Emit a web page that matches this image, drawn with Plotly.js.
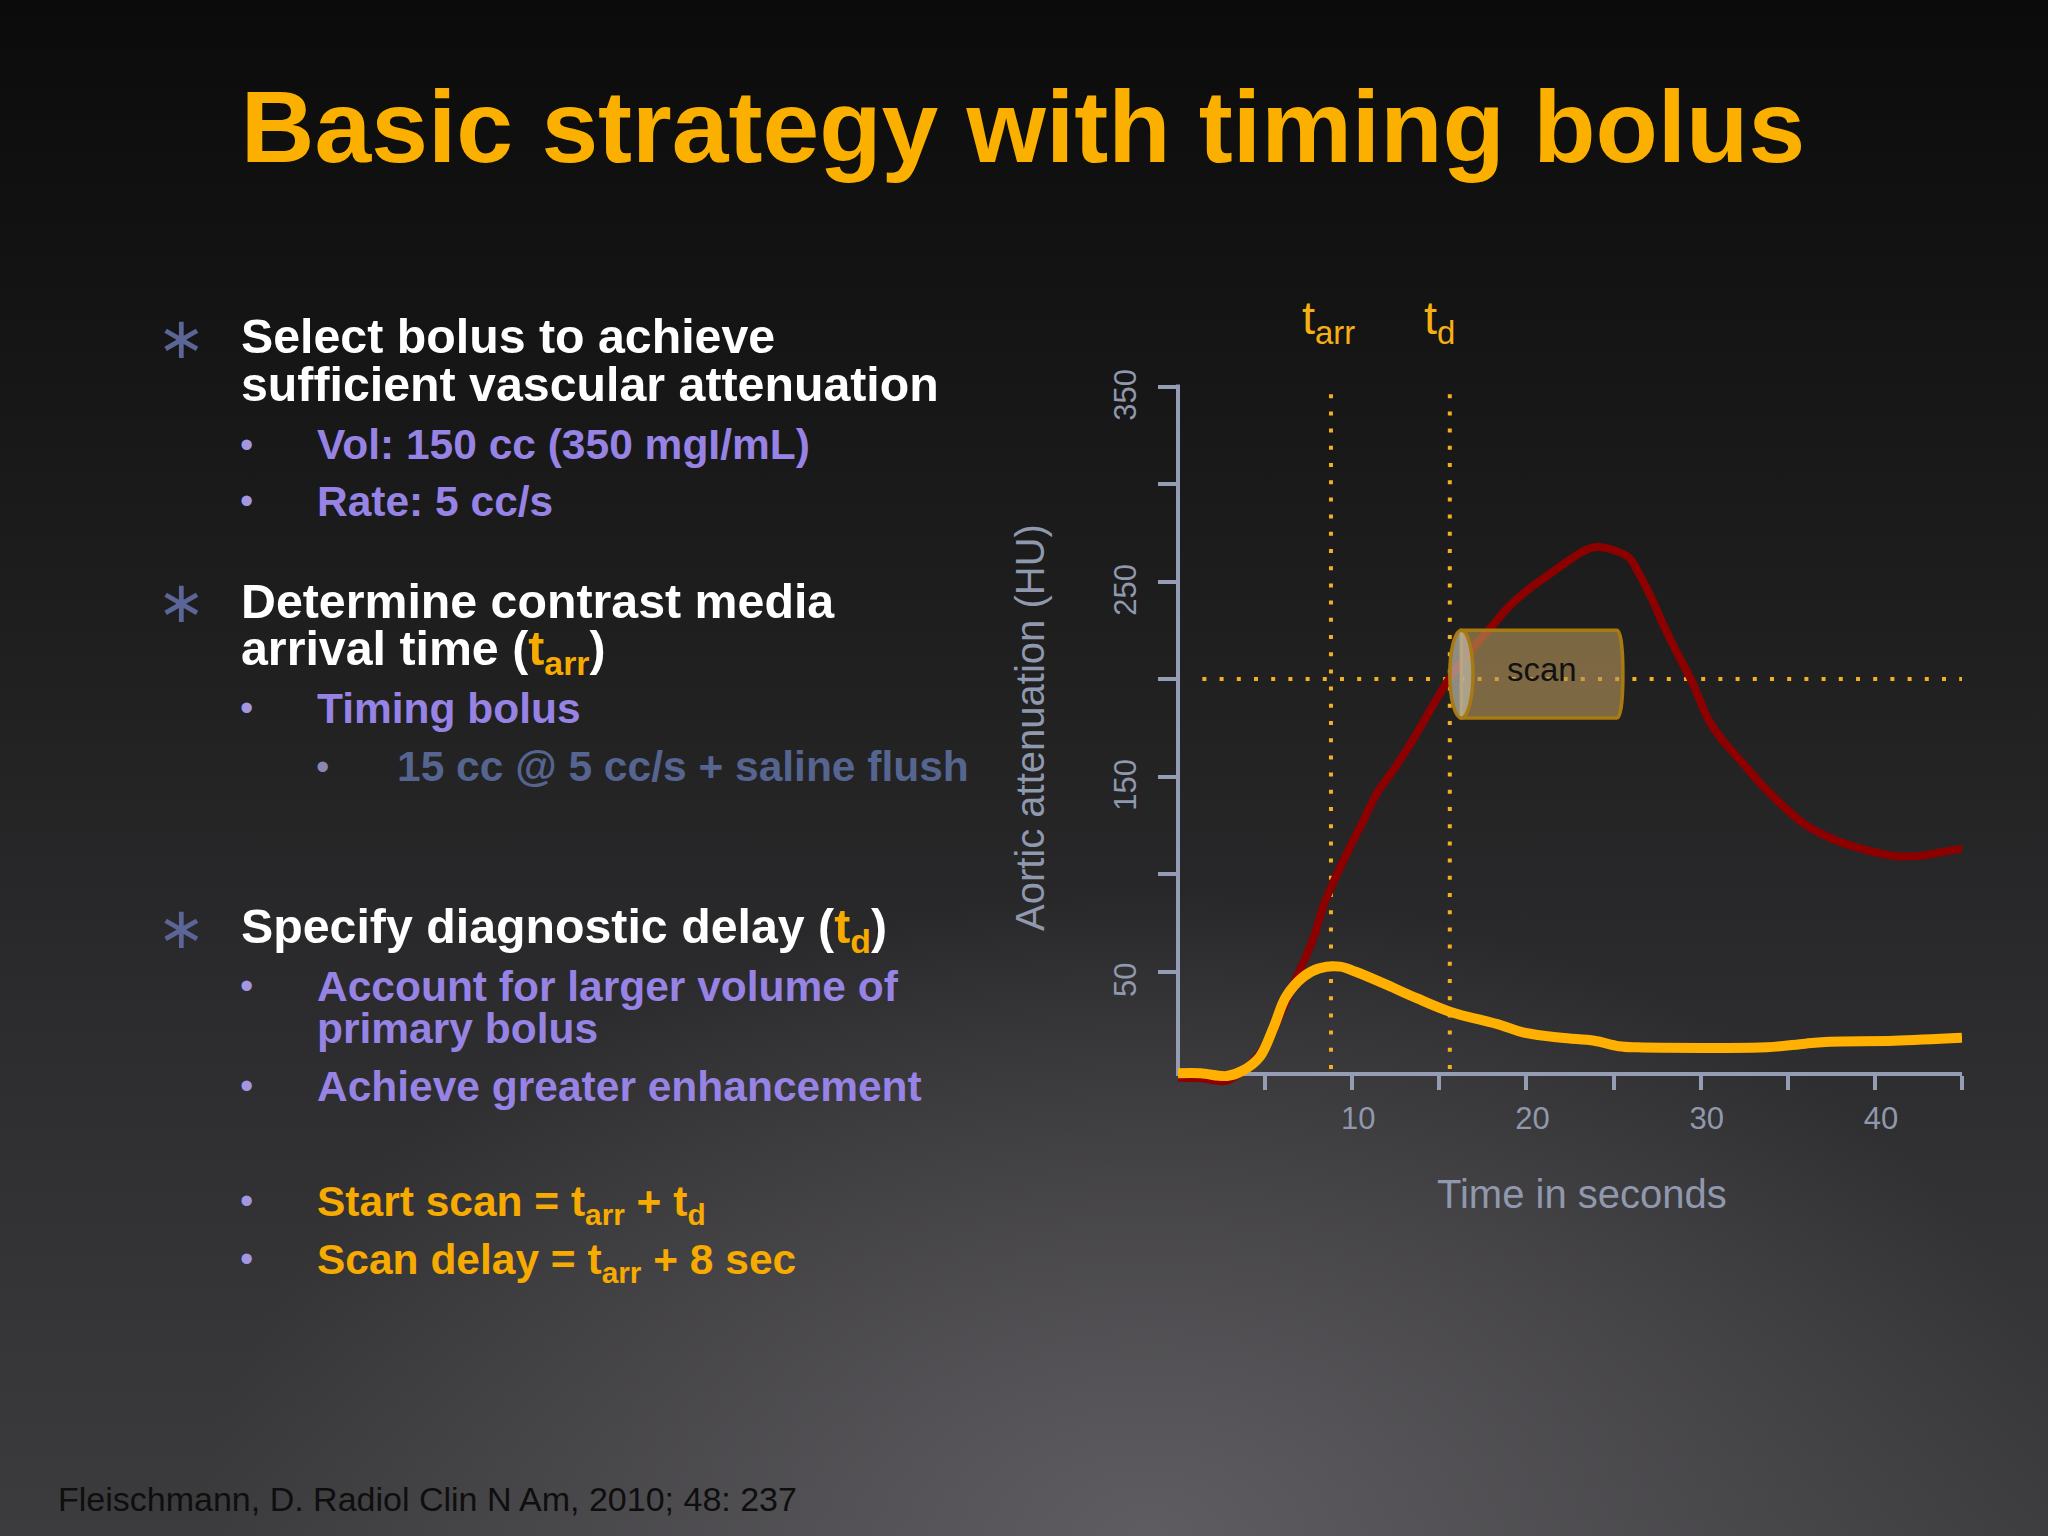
<!DOCTYPE html>
<html>
<head>
<meta charset="utf-8">
<script src="https://cdn.plot.ly/plotly-3.0.1.min.js"></script>
<style>
html, body { margin: 0; padding: 0; width: 2048px; height: 1536px; overflow: hidden; }
body {
  background:
    radial-gradient(ellipse 46% 42% at 56% 100%, rgba(96,94,98,0.95) 0%, rgba(96,94,98,0) 100%),
    linear-gradient(to bottom, #0b0b0b 0%, #141414 20%, #1f1f20 42%, #2d2c2e 68%, #3c3b3e 100%);
}
#chart { width: 2048px; height: 1536px; }
</style>
</head>
<body>
<div id="chart"></div>
<script>
// ---------------- data ----------------
// Timing bolus (yellow) enhancement curve
const timingBolusTime = [0, 1.3, 2.8, 3.7, 4.7, 5.5, 6.2, 7.2, 8.1, 9.3, 10.2, 11.8, 13.7, 15.6, 18.5, 19.8, 22.0, 23.9, 25.3, 26.4, 30.1, 33.8, 36.0, 37.4, 41.1, 45];
const timingBolusHU   = [-2.2, -2.2, -3.6, -0.9, 6.3, 21.7, 37.1, 47.3, 51.6, 52.5, 49.9, 43.9, 36.3, 29.4, 22.6, 18.8, 16.0, 14.5, 11.7, 11.1, 10.8, 11.1, 13.0, 14.0, 14.5, 16.0];
// Primary (diagnostic) bolus (dark red) enhancement curve
const primaryBolusTime = [0, 1.3, 2.8, 4.1, 5.1, 5.9, 6.4, 7.0, 7.8, 8.4, 9.75, 10.7, 11.4, 12.5, 13.6, 14.7, 15.65, 16.9, 18.0, 19.1, 20.2, 21.3, 22.4, 23.3, 24.0, 24.95, 25.9, 26.4, 27.2, 27.9, 28.6, 29.5, 30.45, 31.2, 32.3, 33.4, 34.5, 35.95, 37.4, 39.25, 41.1, 42.55, 44.0, 45];
const primaryBolusHU   = [-4.5, -4.8, -6.0, 2.0, 13.2, 28.5, 38.8, 50.8, 67.8, 85.0, 111.5, 128.4, 141.1, 155.1, 170.6, 187.5, 201.3, 215.6, 226.9, 238.1, 246.6, 253.6, 260.6, 265.7, 267.7, 266.3, 262.1, 255.0, 241.0, 226.9, 214.2, 198.7, 179.1, 169.2, 158.0, 146.7, 136.8, 125.6, 118.6, 112.9, 109.3, 109.3, 111.5, 113.0];

// axis ticks
const xLabelTicks = [10, 20, 30, 40];
const xTickLabels = ['10', '20', '30', '40'];
const xMinorTicks = [5, 15, 25, 35, 45];
const yLabelTicks = [50, 150, 250, 350];
const yTickLabels = ['50', '150', '250', '350'];
const yMinorTicks = [100, 200, 300];

// key times / thresholds
const tArr = 8.78;          // contrast arrival time (s)
const tD = 15.6;            // arrival + diagnostic delay (s)
const scanThreshold = 200;  // HU
const thresholdStart = 1.4; // s
const scanEnd = 25.2;       // s
const scanTopHU = 225;
const scanBottomHU = 180;
const scanCapWidth = 1.33;  // s (front ellipse width)

// ---------------- text ----------------
const titleText = 'Basic strategy with timing bolus';
const xTitle = 'Time in seconds';
const yTitle = 'Aortic attenuation (HU)';
const footerText = 'Fleischmann, D. Radiol Clin N Am, 2010; 48: 237';

const ORANGE = '#f7ab00';
const WHITE = '#ffffff';
const PURPLE = '#9683e4';
const SLATE = '#56658f';
const orangeT = sub => '<span style="color:' + ORANGE + '">t<sub>' + sub + '</sub></span>';

const bulletLines = [
  { text: 'Select bolus to achieve', level: 1, mark: true, color: WHITE },
  { text: 'sufficient vascular attenuation', level: 1, mark: false, color: WHITE },
  { text: 'Vol: 150 cc (350 mgI/mL)', level: 2, mark: true, color: PURPLE },
  { text: 'Rate: 5 cc/s', level: 2, mark: true, color: PURPLE },
  { text: 'Determine contrast media', level: 1, mark: true, color: WHITE },
  { text: 'arrival time (' + orangeT('arr') + ')', level: 1, mark: false, color: WHITE },
  { text: 'Timing bolus', level: 2, mark: true, color: PURPLE },
  { text: '15 cc @ 5 cc/s + saline flush', level: 3, mark: true, color: SLATE },
  { text: 'Specify diagnostic delay (' + orangeT('d') + ')', level: 1, mark: true, color: WHITE },
  { text: 'Account for larger volume of', level: 2, mark: true, color: PURPLE },
  { text: 'primary bolus', level: 2, mark: false, color: PURPLE },
  { text: 'Achieve greater enhancement', level: 2, mark: true, color: PURPLE },
  { text: 'Start scan = t<sub>arr</sub> + t<sub>d</sub>', level: 2, mark: true, color: ORANGE },
  { text: 'Scan delay = t<sub>arr</sub> + 8 sec', level: 2, mark: true, color: ORANGE }
];
// baselines of those lines (px from top)
const bulletBaselines = [352, 399.5, 458.7, 515.5, 616.4, 663.6, 722, 780.7, 942, 1000, 1042, 1100, 1215, 1273];

// ---------------- layout helpers ----------------
const W = 2048, H = 1536;
const FONT = 'Liberation Sans, Arial, Helvetica, sans-serif';
const ASC = 0.905;
const px = p => p / W;
const py = p => 1 - p / H;
const levelX = { 1: 240, 2: 316, 3: 396 };
const levelSize = { 1: 48.3, 2: 42.5, 3: 42.5 };
const markX = { 1: 181.7, 2: 246, 3: 322.5 };

const AXIS = '#949db3';
const AXIS_TEXT = '#8f98ad';
const DOT = '#f0b020';
const DOTDASH = '4px,13.2px';

// plot area pixels
const plotLeft = 1178, plotRight = 1962;
const yZeroPx = 1069, pxPerHU = 1.95;
const yMin = -9, yMax = 350;
const xAxisPx = 1074;
const yDomBottomPx = yZeroPx - yMin * pxPerHU;
const yDomTopPx = yZeroPx - yMax * pxPerHU;

const annotations = [];
bulletLines.forEach((ln, i) => {
  const size = levelSize[ln.level];
  const base = bulletBaselines[i];
  annotations.push({
    xref: 'paper', yref: 'paper', x: px(levelX[ln.level]), y: py(base - ASC * size),
    xanchor: 'left', yanchor: 'top', showarrow: false, borderpad: 0,
    text: ln.text, align: 'left',
    font: { family: FONT, size: size, color: ln.color, weight: 'bold' }
  });
  if (ln.mark) {
    if (ln.level === 1) {
      annotations.push({
        xref: 'paper', yref: 'paper', x: px(markX[1]), y: py(base - 14),
        xanchor: 'center', yanchor: 'middle', showarrow: false, borderpad: 0,
        text: '\u2217', font: { family: 'DejaVu Sans, sans-serif', size: 58, color: '#5b6596' }
      });
    } else {
      annotations.push({
        xref: 'paper', yref: 'paper', x: px(markX[ln.level]), y: py(base - 14),
        xanchor: 'center', yanchor: 'middle', showarrow: false, borderpad: 0,
        text: '\u2022', font: { family: FONT, size: 38, color: ln.level === 3 ? '#8a88b2' : '#a297e0' }
      });
    }
  }
});

// t labels above the vertical markers
annotations.push({
  xref: 'x', yref: 'paper', x: tArr, xshift: -2, y: py(290.5), xanchor: 'center', yanchor: 'top',
  showarrow: false, borderpad: 0, text: 't<sub>arr</sub>', font: { family: FONT, size: 47, color: '#f7b012' }
});
annotations.push({
  xref: 'x', yref: 'paper', x: tD, xshift: -10, y: py(290.5), xanchor: 'center', yanchor: 'top',
  showarrow: false, borderpad: 0, text: 't<sub>d</sub>', font: { family: FONT, size: 47, color: '#f7b012' }
});
// scan label
annotations.push({
  xref: 'x', yref: 'y', x: 20.9, y: 205, xanchor: 'center', yanchor: 'middle',
  showarrow: false, borderpad: 0, text: 'scan', font: { family: FONT, size: 33, color: '#111111' }
});
// axis titles
annotations.push({
  xref: 'paper', yref: 'paper', x: px(1582), y: py(1194), xanchor: 'center', yanchor: 'middle',
  showarrow: false, borderpad: 0, text: xTitle, font: { family: FONT, size: 40, color: AXIS_TEXT }
});
annotations.push({
  xref: 'paper', yref: 'paper', x: px(1030), y: py(728), xanchor: 'center', yanchor: 'middle',
  showarrow: false, borderpad: 0, textangle: -90, text: yTitle, font: { family: FONT, size: 40, color: AXIS_TEXT }
});
// footer
annotations.push({
  xref: 'paper', yref: 'paper', x: px(57), y: py(1510 - ASC * 34), xanchor: 'left', yanchor: 'top',
  showarrow: false, borderpad: 0, text: footerText, font: { family: FONT, size: 34, color: '#0e0e0e' }
});

// ---------------- shapes ----------------
const capCenter = tD + scanCapWidth / 2;
const bulge = 0.45;
const shapes = [
  // y axis line
  { type: 'line', xref: 'paper', yref: 'paper', x0: px(plotLeft), x1: px(plotLeft), y0: py(xAxisPx + 2), y1: py(yDomTopPx - 2),
    line: { color: AXIS, width: 4 }, layer: 'below' },
  // threshold
  { type: 'line', xref: 'x', yref: 'y', x0: thresholdStart, x1: 45, y0: scanThreshold, y1: scanThreshold,
    line: { color: DOT, width: 4, dash: DOTDASH }, layer: 'below' },
  // t_arr and t_d markers
  { type: 'line', xref: 'x', yref: 'y', x0: tArr, x1: tArr, y0: 0, y1: yMax,
    line: { color: DOT, width: 4, dash: DOTDASH }, layer: 'below' },
  { type: 'line', xref: 'x', yref: 'y', x0: tD, x1: tD, y0: 0, y1: yMax,
    line: { color: DOT, width: 4, dash: DOTDASH }, layer: 'below' },
  // scan cylinder body
  { type: 'path', xref: 'x', yref: 'y', layer: 'above',
    path: 'M ' + capCenter + ',' + scanTopHU + ' L ' + scanEnd + ',' + scanTopHU +
          ' C ' + (scanEnd + bulge) + ',' + scanTopHU + ' ' + (scanEnd + bulge) + ',' + scanBottomHU + ' ' + scanEnd + ',' + scanBottomHU +
          ' L ' + capCenter + ',' + scanBottomHU + ' Z',
    fillcolor: 'rgba(182,148,88,0.62)', line: { color: '#a87a12', width: 3.5 } },
  // scan cylinder front cap
  { type: 'circle', xref: 'x', yref: 'y', layer: 'above',
    x0: tD, x1: tD + scanCapWidth, y0: scanBottomHU, y1: scanTopHU,
    fillcolor: 'rgba(190,185,172,0.7)', line: { color: '#a87a12', width: 3.5 } }
];

// ---------------- traces ----------------
const traces = [
  { type: 'scatter', mode: 'lines', x: primaryBolusTime, y: primaryBolusHU,
    line: { color: '#8c0000', width: 8, shape: 'spline', smoothing: 1 }, hoverinfo: 'skip', name: 'Primary bolus' },
  { type: 'scatter', mode: 'lines', x: timingBolusTime, y: timingBolusHU,
    line: { color: '#ffb000', width: 10, shape: 'spline', smoothing: 1 }, hoverinfo: 'skip', name: 'Timing bolus' }
];

const minorStyle = { ticks: 'outside', tickcolor: AXIS, tickwidth: 4, showgrid: false, tickmode: 'array' };

const layout = {
  width: W, height: H,
  margin: { l: 0, r: 0, t: 0, b: 0, pad: 0 },
  paper_bgcolor: 'rgba(0,0,0,0)', plot_bgcolor: 'rgba(0,0,0,0)',
  showlegend: false,
  font: { family: FONT },
  title: {
    text: titleText,
    font: { family: FONT, size: 102, color: '#fbb000', weight: 'bold' },
    x: px(1023), xanchor: 'center', xref: 'paper',
    y: py(90.5), yanchor: 'top', yref: 'container'
  },
  xaxis: {
    domain: [px(plotLeft), px(plotRight)], range: [0, 45],
    anchor: 'free', position: py(xAxisPx),
    showline: true, linecolor: AXIS, linewidth: 4,
    ticks: 'outside', ticklen: 14, tickwidth: 4, tickcolor: AXIS,
    tickmode: 'array', tickvals: xLabelTicks, ticktext: xTickLabels,
    minor: Object.assign({ tickvals: xMinorTicks, ticklen: 14 }, minorStyle),
    tickfont: { family: FONT, size: 31, color: AXIS_TEXT },
    ticklabelstandoff: 2, ticklabelshift: 6,
    showgrid: false, zeroline: false, layer: 'below traces', fixedrange: true
  },
  yaxis: {
    domain: [py(yDomBottomPx), py(yDomTopPx)], range: [yMin, yMax],
    showline: false,
    ticks: 'outside', ticklen: 19, tickwidth: 4, tickcolor: AXIS,
    tickmode: 'array', tickvals: yLabelTicks, ticktext: yTickLabels, tickangle: -90,
    minor: Object.assign({ tickvals: yMinorTicks, ticklen: 19 }, minorStyle),
    tickfont: { family: FONT, size: 31, color: AXIS_TEXT },
    ticklabelstandoff: 10, ticklabelshift: 13,
    showgrid: false, zeroline: false, layer: 'below traces', fixedrange: true
  },
  shapes: shapes,
  annotations: annotations
};

Plotly.newPlot('chart', traces, layout, { staticPlot: true, displayModeBar: false });
</script>
</body>
</html>
